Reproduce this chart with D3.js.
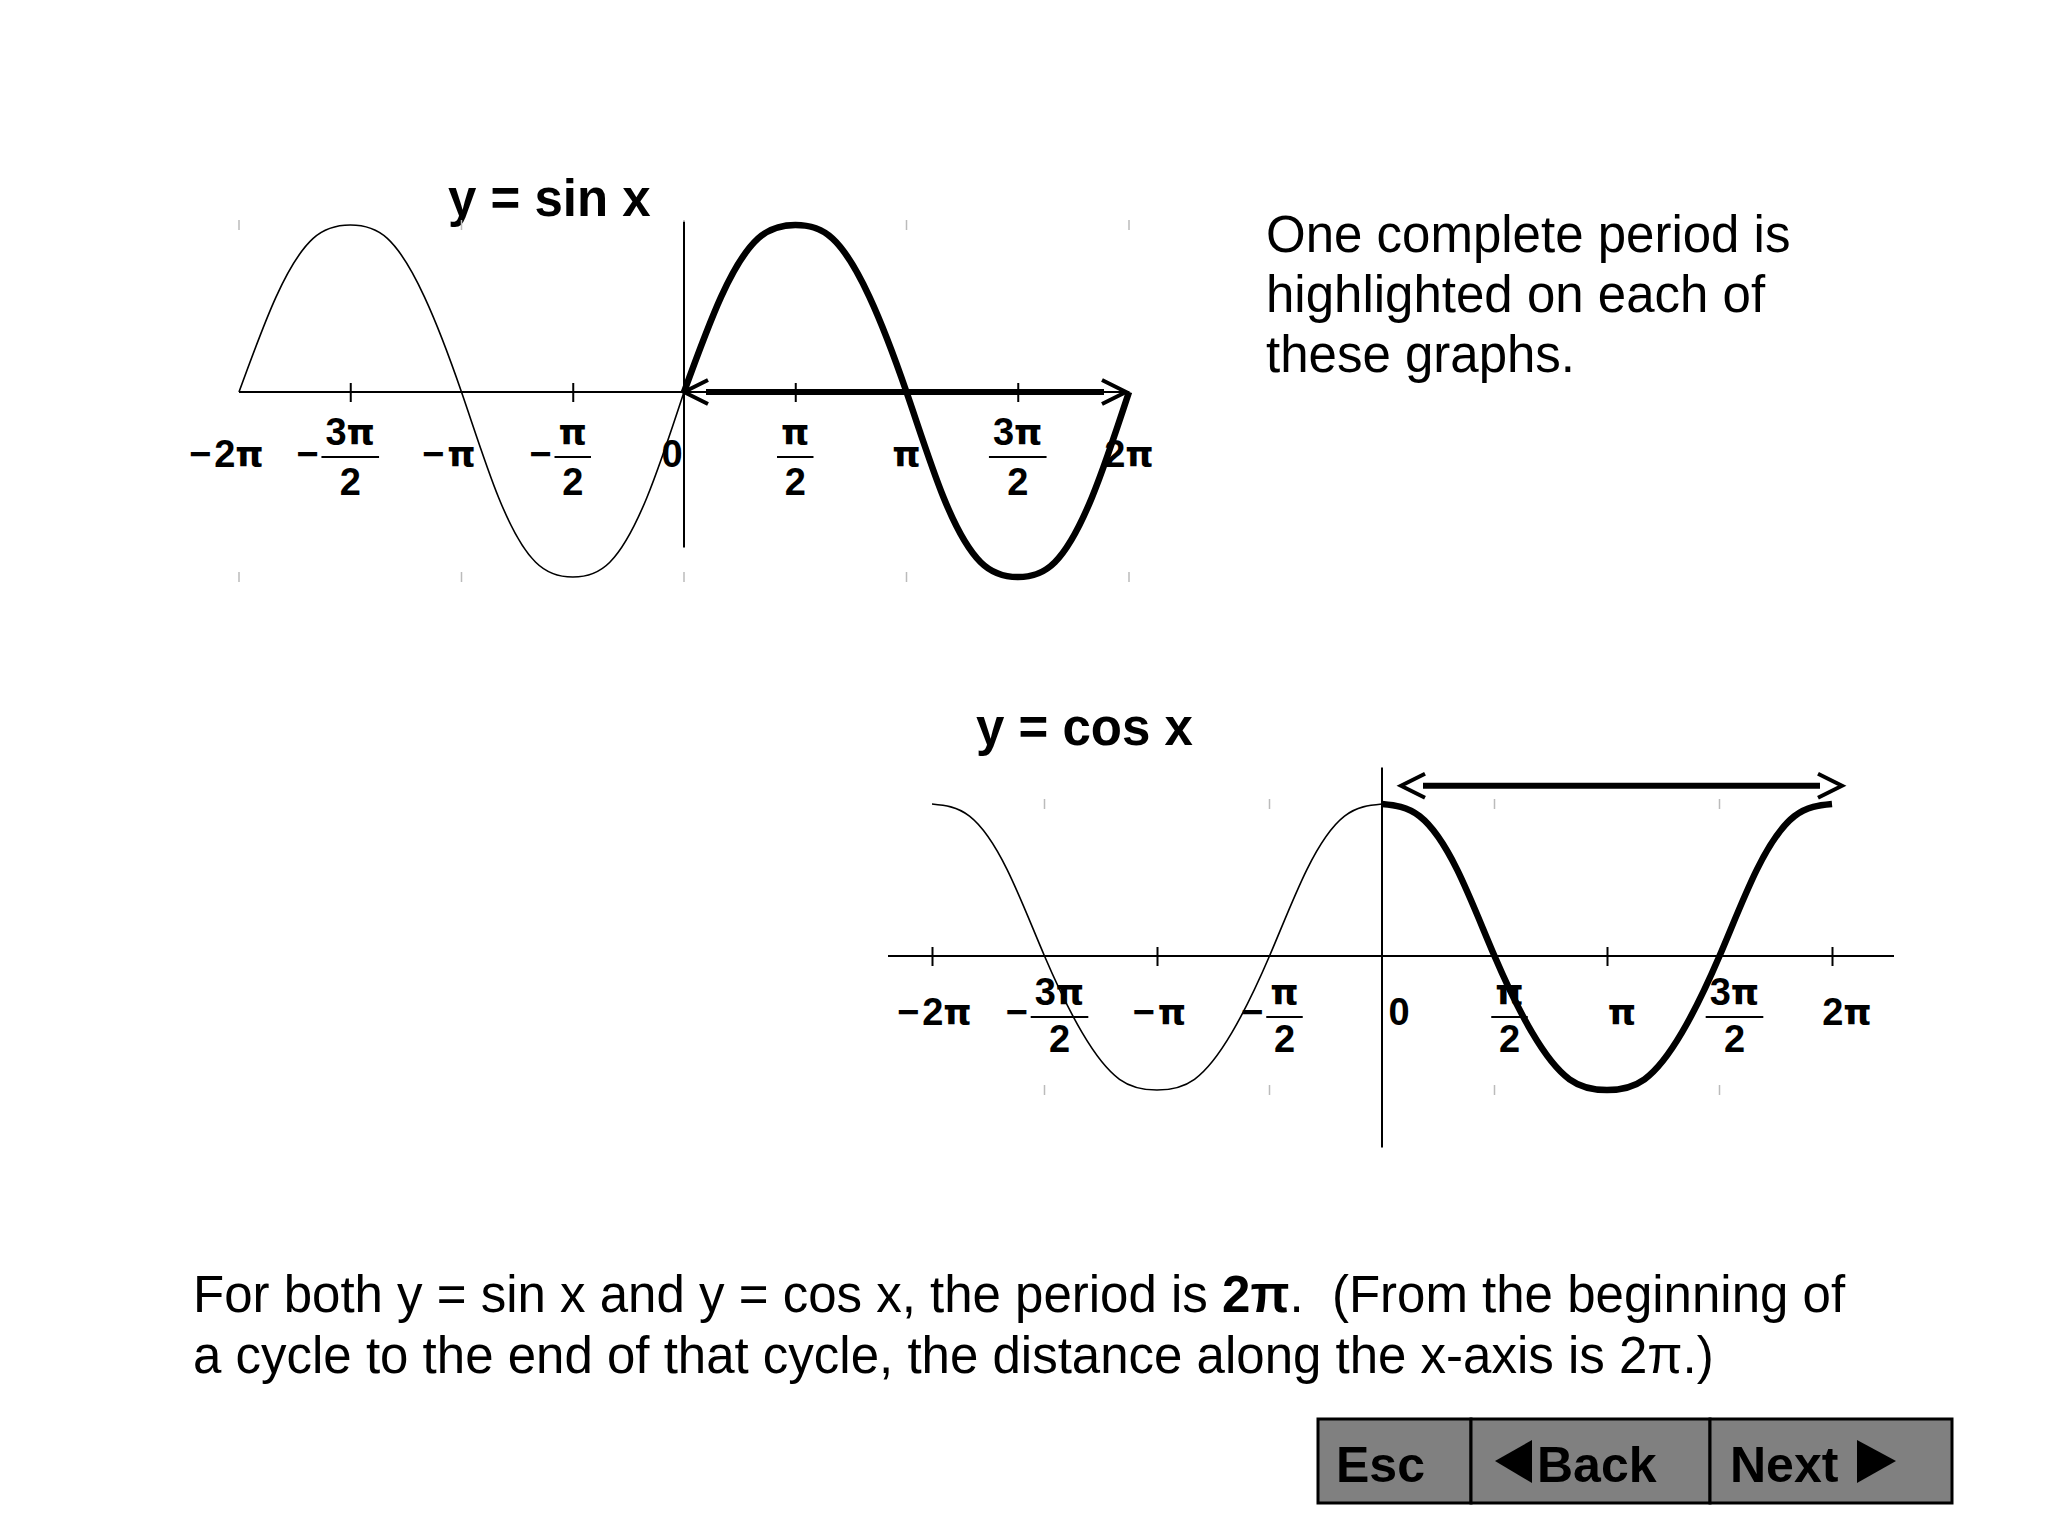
<!DOCTYPE html>
<html>
<head>
<meta charset="utf-8">
<script src="https://cdn.jsdelivr.net/npm/d3@7"></script>
<style>
  body { margin: 0; background: #fff; }
  svg text { font-family: "Liberation Sans", Arial, sans-serif; fill: #000; white-space: pre; }
</style>
</head>
<body>
<div id="container"></div>
<script>
/* CONSTANTS AND GLOBALS */
const width = 2048,
  height = 1536;
const PI = Math.PI;

/* DATA */
// sample points along x, in sixths of pi (-2pi .. 2pi)
const sixths = [-12, -11, -10, -9, -8, -7, -6, -5, -4, -3, -2, -1, 0, 1, 2, 3, 4, 5, 6, 7, 8, 9, 10, 11, 12];
// curve heights at those points (the slide's curves are a bit full)
const sinValues = [0, 0.57, 0.92, 1, 0.92, 0.57, 0, -0.57, -0.92, -1, -0.92, -0.57, 0, 0.57, 0.92, 1, 0.92, 0.57, 0, -0.57, -0.92, -1, -0.92, -0.57, 0];
const cosValues = [1, 0.92, 0.57, 0, -0.57, -0.92, -1, -0.92, -0.57, 0, 0.57, 0.92, 1, 0.92, 0.57, 0, -0.57, -0.92, -1, -0.92, -0.57, 0, 0.57, 0.92, 1];

// tick labels, in halves of pi
const halfSteps = [-4, -3, -2, -1, 0, 1, 2, 3, 4];
const tickSigns = ["−", "−", "−", "−", "", "", "", "", ""];
const tickNums = ["2π", "3π", "π", "π", "0", "π", "π", "3π", "2π"];
const tickDens = ["", "2", "", "2", "", "2", "", "2", ""];
const sinTickSteps = [-3, -1, 1, 3];
const cosTickSteps = [-4, -2, 2, 4];
const sinMarkSteps = [-4, -2, 0, 2, 4];
const cosMarkSteps = [-3, -1, 1, 3];

const period = [0, 2 * PI];
const sinTitle = "y = sin x";
const cosTitle = "y = cos x";
const introLines = ["One complete period is", "highlighted on each of", "these graphs."];
const footLine1 = ["For both y = sin x and y = cos x, the period is ", "2π", ".  (From the beginning of"];
const footLine2 = "a cycle to the end of that cycle, the distance along the x-axis is 2π.)";
const buttonLabels = ["Esc", "Back", "Next"];

/* HTML ELEMENTS */
const svg = d3.select("#container")
  .append("svg")
  .attr("width", width)
  .attr("height", height)

svg.append("rect").attr("width", width).attr("height", height).attr("fill", "#fff")

// text with the pi glyph set in its own face, like the slide
function mixed(sel, str) {
  str.split(/(π)/).filter(s => s.length).forEach(s => {
    const t = sel.append("tspan").text(s)
    if (s === "π") t.attr("font-family", "DejaVu Sans").attr("font-size", 36)
  })
  return sel
}

function drawGraph(o) {
  const g = svg.append("g")
  const x = d3.scaleLinear().domain([-2 * PI, 2 * PI]).range(o.xRange)
  const y = d3.scaleLinear().domain([-1, 0, 1]).range(o.yRange)
  const y0 = y(0)

  g.append("text")
    .attr("x", o.titleX).attr("y", o.titleY)
    .attr("font-size", 51).attr("font-weight", "bold")
    .text(o.title)

  // faint grid end marks
  o.marks.forEach(k => {
    [1, -1].forEach(v => {
      g.append("line")
        .attr("x1", x(k * PI / 2)).attr("x2", x(k * PI / 2))
        .attr("y1", y(v) - 5).attr("y2", y(v) + 5)
        .attr("stroke", "#bbb").attr("stroke-width", 1.5)
    })
  })

  // x axis
  g.append("line")
    .attr("x1", x(-2 * PI) - o.axisPad[0]).attr("x2", x(2 * PI) + o.axisPad[1])
    .attr("y1", y0).attr("y2", y0)
    .attr("stroke", "#000").attr("stroke-width", 2)

  const xAxis = d3.axisBottom(x)
    .tickValues(o.ticks.map(k => k * PI / 2))
    .tickSize(10)
    .tickFormat("")
  g.append("g")
    .attr("transform", `translate(0,${y0})`)
    .call(xAxis)
    .call(a => a.select(".domain").remove())
    .call(a => a.selectAll(".tick line").attr("y1", -9).attr("stroke-width", 2))

  // y axis
  g.append("line")
    .attr("x1", x(0)).attr("x2", x(0))
    .attr("y1", y(o.vAxis[0])).attr("y2", y(o.vAxis[1]))
    .attr("stroke", "#000").attr("stroke-width", 2)

  // tick labels
  halfSteps.forEach((k, i) => {
    const cx = x(k * PI / 2) + (k === 0 ? o.zeroDx : o.labelDx)
    const lab = g.append("g").attr("font-weight", "bold").attr("font-size", 38)
    if (tickDens[i]) {
      const num = mixed(lab.append("text").attr("x", cx).attr("y", y0 + o.off.num).attr("text-anchor", "middle"), tickNums[i])
      const w = num.node().getComputedTextLength() + 8
      lab.append("line")
        .attr("x1", cx - w / 2).attr("x2", cx + w / 2)
        .attr("y1", y0 + o.off.bar).attr("y2", y0 + o.off.bar)
        .attr("stroke", "#000").attr("stroke-width", 2)
      lab.append("text").attr("x", cx).attr("y", y0 + o.off.den).attr("text-anchor", "middle").text(tickDens[i])
      if (tickSigns[i]) lab.append("text").attr("x", cx - w / 2 - 3).attr("y", y0 + o.off.single).attr("text-anchor", "end").text(tickSigns[i])
    } else {
      const num = mixed(lab.append("text").attr("x", cx).attr("y", y0 + o.off.single).attr("text-anchor", "middle"), tickNums[i])
      const w = num.node().getComputedTextLength()
      if (tickSigns[i]) lab.append("text").attr("x", cx - w / 2 - 3).attr("y", y0 + o.off.single).attr("text-anchor", "end").text(tickSigns[i])
    }
  })

  // curve: thin before 0, thick for the highlighted period
  const pts = sixths.map((k, i) => ({ x: k * PI / 6, y: o.values[i] }))
  const line = d3.line().x(d => x(d.x)).y(d => y(d.y)).curve(d3.curveNatural)
  g.append("path").datum(pts.filter(d => d.x <= 0))
    .attr("d", line).attr("fill", "none").attr("stroke", "#000").attr("stroke-width", 1.6)
  g.append("path").datum(pts.filter(d => d.x >= 0))
    .attr("d", line).attr("fill", "none").attr("stroke", "#000").attr("stroke-width", 6.5)
    .attr("stroke-linejoin", "round")

  // period arrow
  const ay = y(o.arrowY)
  const ax1 = x(period[0]) + o.arrowDx[0], ax2 = x(period[1]) + o.arrowDx[1]
  g.append("line")
    .attr("x1", ax1 + 22).attr("x2", ax2 - 22).attr("y1", ay).attr("y2", ay)
    .attr("stroke", "#000").attr("stroke-width", 6)
  g.append("path")
    .attr("d", `M${ax1 + 24},${ay - 12}L${ax1},${ay}L${ax1 + 24},${ay + 12}`)
    .attr("fill", "none").attr("stroke", "#000").attr("stroke-width", 4)
  g.append("path")
    .attr("d", `M${ax2 - 24},${ay - 12}L${ax2},${ay}L${ax2 - 24},${ay + 12}`)
    .attr("fill", "none").attr("stroke", "#000").attr("stroke-width", 4)
}

drawGraph({
  title: sinTitle, titleX: 448, titleY: 216,
  values: sinValues,
  xRange: [239, 1129], yRange: [577, 392, 225],
  axisPad: [0, 0], vAxis: [-0.84, 1.02],
  ticks: sinTickSteps, marks: sinMarkSteps,
  labelDx: 0, zeroDx: -12,
  off: { num: 53, bar: 65, single: 75, den: 103 },
  arrowY: 0, arrowDx: [0, -3]
})

drawGraph({
  title: cosTitle, titleX: 976, titleY: 745,
  values: cosValues,
  xRange: [932, 1832], yRange: [1090, 956, 804],
  axisPad: [44, 62], vAxis: [-1.43, 1.24],
  ticks: cosTickSteps, marks: cosMarkSteps,
  labelDx: 15, zeroDx: 17,
  off: { num: 49, bar: 61, single: 69, den: 96 },
  arrowY: 1.12, arrowDx: [19, 10]
})

// explanatory text
const intro = svg.append("text").attr("font-size", 51)
introLines.forEach((s, i) => {
  intro.append("tspan").attr("x", 1266).attr("y", 252 + i * 60).text(s)
})

const foot = svg.append("text").attr("font-size", 51)
const l1 = foot.append("tspan").attr("x", 193).attr("y", 1312)
l1.append("tspan").text(footLine1[0])
l1.append("tspan").attr("font-weight", "bold").text(footLine1[1])
l1.append("tspan").text(footLine1[2])
foot.append("tspan").attr("x", 193).attr("y", 1373).text(footLine2)

// navigation buttons
const nav = svg.append("g")
const cells = [[1318, 1471], [1471, 1710], [1710, 1952]]
cells.forEach(c => {
  nav.append("rect")
    .attr("x", c[0]).attr("y", 1419).attr("width", c[1] - c[0]).attr("height", 84)
    .attr("fill", "#808080").attr("stroke", "#000").attr("stroke-width", 3)
})
const btn = nav.append("g").attr("font-size", 50).attr("font-weight", "bold")
btn.append("text").attr("x", 1336).attr("y", 1482).text(buttonLabels[0])
btn.append("path").attr("d", "M1495,1461L1532,1440L1532,1483Z").attr("fill", "#000")
btn.append("text").attr("x", 1537).attr("y", 1482).text(buttonLabels[1])
btn.append("text").attr("x", 1730).attr("y", 1482).text(buttonLabels[2])
btn.append("path").attr("d", "M1857,1440L1896,1461L1857,1483Z").attr("fill", "#000")
</script>
</body>
</html>
